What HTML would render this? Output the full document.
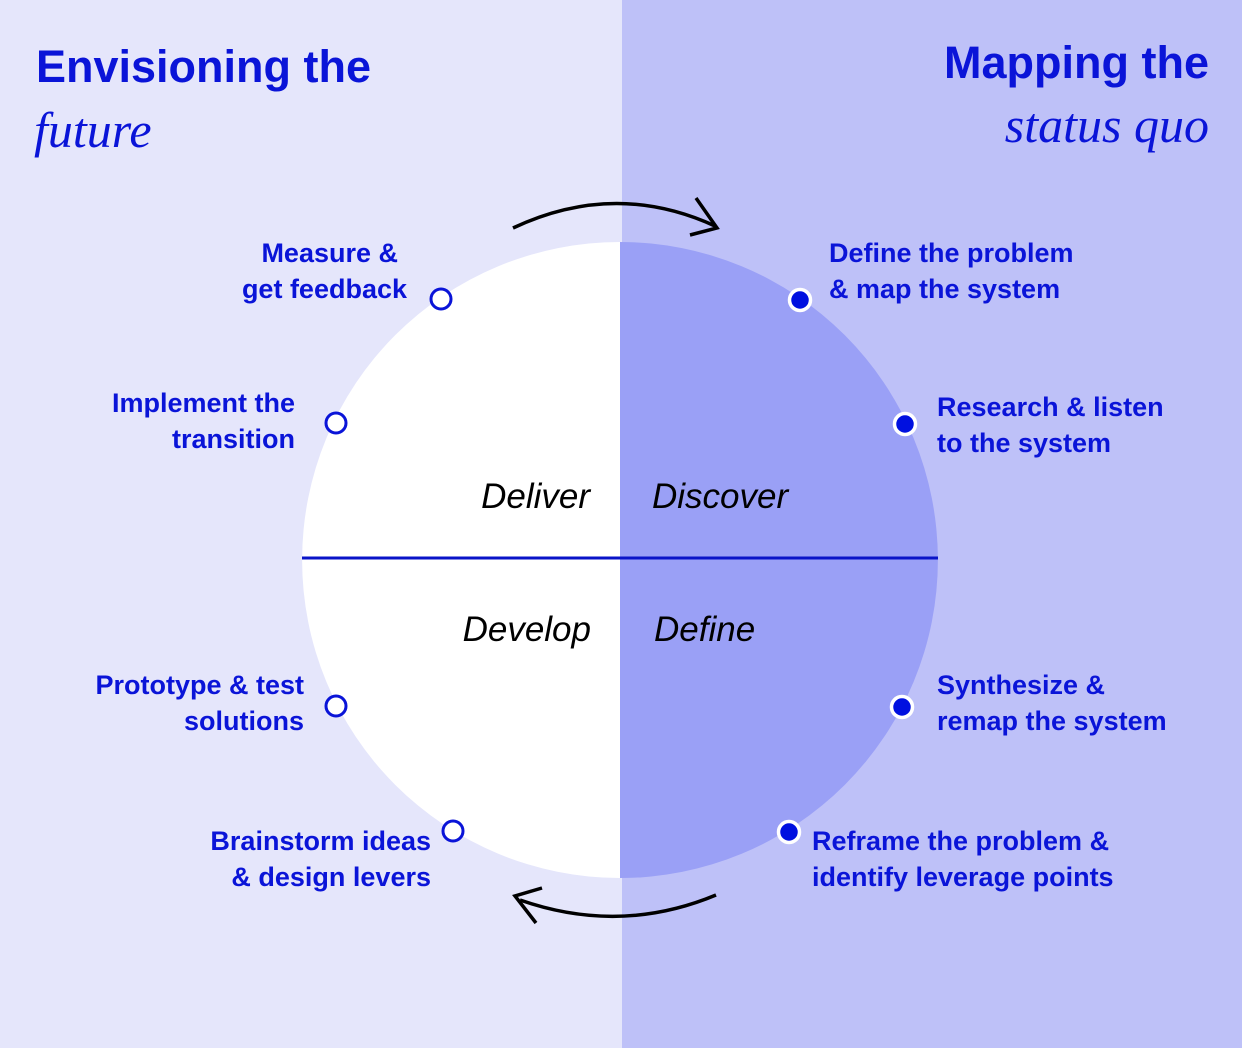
<!DOCTYPE html>
<html><head><meta charset="utf-8"><style>
html,body{margin:0;padding:0}
body{width:1242px;height:1048px;overflow:hidden;font-family:"Liberation Sans",sans-serif}
</style></head><body>
<svg width="1242" height="1048" xmlns="http://www.w3.org/2000/svg">
<rect x="0" y="0" width="622" height="1048" fill="#e5e6fb"/>
<rect x="622" y="0" width="620" height="1048" fill="#bec1f8"/>
<path d="M620 242 A318 318 0 0 0 620 878 Z" fill="#fff"/>
<path d="M620 242 A318 318 0 0 1 620 878 Z" fill="#9aa0f6"/>
<line x1="302" y1="558" x2="938" y2="558" stroke="#0a14c8" stroke-width="3"/>
<path d="M513 228 Q615 180 715 226" fill="none" stroke="#000" stroke-width="3.5"/>
<path d="M696 198 L717 228 L690 235" fill="none" stroke="#000" stroke-width="3.5"/>
<path d="M716 895 Q620 935 520 900" fill="none" stroke="#000" stroke-width="3.5"/>
<path d="M536 923 L515 896 L542 888" fill="none" stroke="#000" stroke-width="3.5"/>
<g fill="#0a14d8" font-weight="bold" font-size="45">
<text x="36" y="82">Envisioning the</text>
<text x="1209" y="78" text-anchor="end">Mapping the</text>
</g>
<g fill="#0a14d8" font-family="Liberation Serif,serif" font-style="italic" font-size="50">
<text x="34" y="147">future</text>
<text x="1209" y="142" text-anchor="end">status quo</text>
</g>
<g font-style="italic" font-size="35" fill="#000">
<text x="590" y="508" text-anchor="end">Deliver</text>
<text x="652" y="508">Discover</text>
<text x="591" y="641" text-anchor="end">Develop</text>
<text x="654" y="641">Define</text>
</g>
<g fill="#0a14d8" font-weight="bold" font-size="27">
<text x="398" y="262" text-anchor="end">Measure &amp;</text>
<text x="407" y="298" text-anchor="end">get feedback</text>
<text x="295" y="412" text-anchor="end">Implement the</text>
<text x="295" y="448" text-anchor="end">transition</text>
<text x="304" y="694" text-anchor="end">Prototype &amp; test</text>
<text x="304" y="730" text-anchor="end">solutions</text>
<text x="431" y="850" text-anchor="end">Brainstorm ideas</text>
<text x="431" y="886" text-anchor="end">&amp; design levers</text>
<text x="829" y="262">Define the problem</text>
<text x="829" y="298">&amp; map the system</text>
<text x="937" y="416">Research &amp; listen</text>
<text x="937" y="452">to the system</text>
<text x="937" y="694">Synthesize &amp;</text>
<text x="937" y="730">remap the system</text>
<text x="812" y="850">Reframe the problem &amp;</text>
<text x="812" y="886">identify leverage points</text>
</g>
<g fill="#fff" stroke="#0a14d8" stroke-width="3">
<circle cx="441" cy="299" r="10"/>
<circle cx="336" cy="423" r="10"/>
<circle cx="336" cy="706" r="10"/>
<circle cx="453" cy="831" r="10"/>
</g>
<g fill="#0010e0" stroke="#fff" stroke-width="3.5">
<circle cx="800" cy="300" r="10.5"/>
<circle cx="905" cy="424" r="10.5"/>
<circle cx="902" cy="707" r="10.5"/>
<circle cx="789" cy="832" r="10.5"/>
</g>
</svg>
</body></html>
